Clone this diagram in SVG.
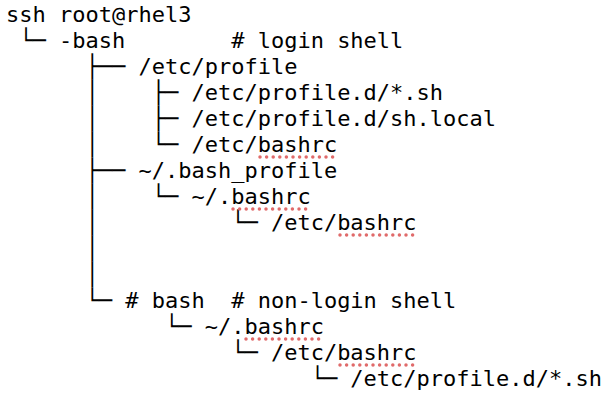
<svg xmlns="http://www.w3.org/2000/svg" width="616" height="400" viewBox="0 0 616 400">
<style>
text{font-family:"DejaVu Sans Mono","Liberation Mono",monospace;font-size:22px;fill:#000;white-space:pre}
.u{stroke:#e06a6a;stroke-width:3.5;stroke-linecap:round;stroke-dasharray:0 6.6;fill:none}
</style>
<rect width="616" height="400" fill="#fff"/>
<g id="tree" xml:space="preserve">
<text x="6" y="22">ssh root@rhel3</text>
<text x="6" y="48"> └─ -bash        # login shell</text>
<text x="6" y="74">      ├── /etc/profile</text>
<text x="6" y="100">      │    ├─ /etc/profile.d/*.sh</text>
<text x="6" y="126">      │    ├─ /etc/profile.d/sh.local</text>
<text x="6" y="152">      │    └─ /etc/bashrc</text>
<text x="6" y="178">      ├── ~/.bash_profile</text>
<text x="6" y="204">      │    └─ ~/.bashrc</text>
<text x="6" y="230">      │          └─ /etc/bashrc</text>
<text x="6" y="256">      │</text>
<text x="6" y="282">      │</text>
<text x="6" y="308">      └─ # bash  # non-login shell</text>
<text x="6" y="334">            └─ ~/.bashrc</text>
<text x="6" y="360">                 └─ /etc/bashrc</text>
<text x="6" y="386">                       └─ /etc/profile.d/*.sh</text>
</g>
<g id="underlines">
<line class="u" x1="260" y1="157" x2="334" y2="157"/>
<line class="u" x1="233" y1="209" x2="307" y2="209"/>
<line class="u" x1="340" y1="235" x2="414" y2="235"/>
<line class="u" x1="246" y1="339" x2="320" y2="339"/>
<line class="u" x1="340" y1="365" x2="414" y2="365"/>
</g>
</svg>
